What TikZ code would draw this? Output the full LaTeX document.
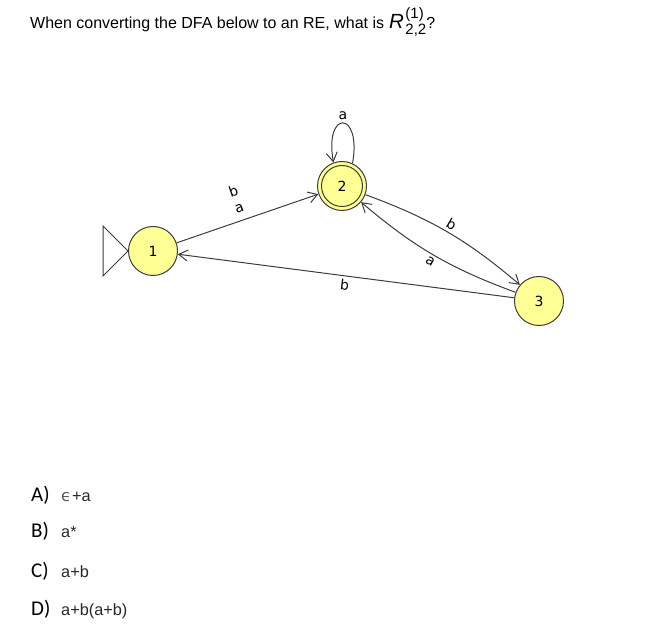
\documentclass[tikz,border=0pt]{standalone}
\usepackage{fontspec}
\setmainfont{Liberation Sans}
\newfontfamily\jflapfont{DejaVu Sans}
\newfontfamily\optfont{Carlito}
\usetikzlibrary{arrows.meta}

\definecolor{stfill}{RGB}{255,255,150}
\definecolor{stline}{RGB}{60,60,60}
\definecolor{opttext}{RGB}{40,40,40}
\definecolor{epsgray}{RGB}{90,90,90}

\begin{document}
\begin{tikzpicture}[x=1pt,y=1pt,
arr/.style={draw=stline,line width=1pt,-{Straight Barb[length=9pt,width=11pt]}},
lbl/.style={font=\jflapfont\fontsize{14}{16}\selectfont,inner sep=2.5pt}]
\tikzstyle{every node}=[inner sep=0pt]
\tikzstyle{st}=[circle,draw=stline,fill=stfill,line width=1pt,minimum size=49pt,
  font=\jflapfont\fontsize{14}{15}\selectfont]
\tikzstyle{opt}=[anchor=base west,font=\optfont\fontsize{21}{21}\selectfont]
\tikzstyle{ans}=[anchor=base west,text=opttext,font=\fontsize{16.3}{18}\selectfont]
\useasboundingbox (0,0) rectangle (670,639);

    % question
    \node[anchor=base west,font=\fontsize{16}{18}\selectfont] (Question) at (30,610.5)
      {When converting the DFA below to an RE, what is\kern5pt
       {\fontsize{20.5}{20}\selectfont\itshape R}\kern1.5pt\rlap{\raisebox{10pt}{\fontsize{15}{15}\selectfont(1)}}\raisebox{-6.5pt}{\fontsize{15}{15}\selectfont 2,2}?};

    % states
    \node[st] (S1) at (153,388) {1};
    \node[st] (S2) at (342,453) {2};
    \node[st] (S3) at (539,338) {3};
    \draw[stline,line width=1pt] (S2) circle (20.5pt);

    % initial state marker
    \draw[stline,line width=1pt] (S1.west) -- ++(-25,25) -- ++(0,-50) -- cycle;

    % transitions
    \draw[arr] (S1) -- node[lbl,sloped,above=5pt,pos=0.47,align=center] (L12) {b\\[1pt]a} (S2);
    \draw[arr] (S2.65) .. controls +(80:54) and +(100:54) .. node[lbl,above] (L22) {a} (S2.110);
    \draw[arr] (S2) to[bend left=10] node[lbl,sloped,above] (L23) {b} (S3);
    \draw[arr] (S3) to[bend left=10] node[lbl,sloped,below] (L32) {a} (S2);
    \draw[arr] (S3) -- node[lbl,sloped,below,inner sep=3.5pt] (L31) {b} (S1);

    % answers
    \node[opt] (OptA) at (31,137) {A)};
    \node[opt] (OptB) at (31,101) {B)};
    \node[opt] (OptC) at (31,61) {C)};
    \node[opt] (OptD) at (31,23) {D)};
    \node[ans] (AnsA) at (61,137) {{\color{epsgray}\jflapfont ϵ}\kern1pt+a};
    \node[ans] (AnsB) at (61,101) {a*};
    \node[ans] (AnsC) at (61,61) {a+b};
    \node[ans] (AnsD) at (61,23) {a+b(a+b)};

\end{tikzpicture}
\end{document}
